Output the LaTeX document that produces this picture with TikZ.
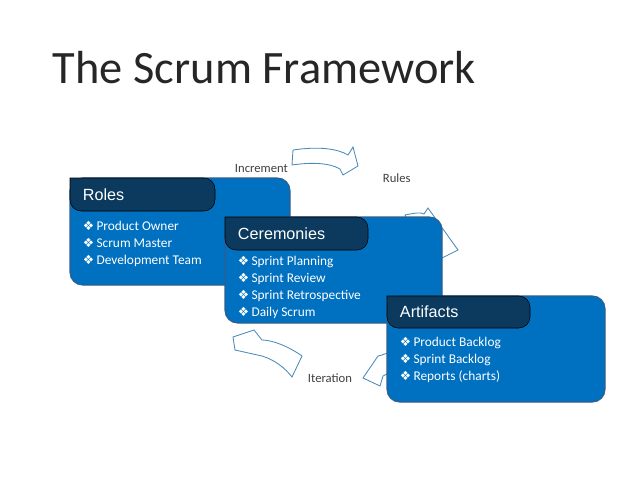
\documentclass[tikz,border=0pt]{standalone}
\usepackage{fontspec}
\setmainfont{Carlito}
\newfontfamily\hdfont{Liberation Sans}
\newfontfamily\djfont{DejaVu Sans}
\definecolor{boxblue}{HTML}{0070C0}
\definecolor{boxedge}{HTML}{2F5F8F}
\definecolor{hdblue}{HTML}{0B3A5E}
\definecolor{arredge}{HTML}{4A8AB8}
\definecolor{lbl}{HTML}{404040}
\newcommand{\bul}{{\djfont\small ❖}\,}
\begin{document}
\begin{tikzpicture}[x=0.025cm,y=-0.025cm,
  body/.style={fill=boxblue,draw=boxedge,line width=0.8pt,rounded corners=9pt},
  head/.style={fill=hdblue,rounded corners=8pt},
  htext/.style={text=white,font=\hdfont\fontsize{11.5}{13}\selectfont,anchor=west},
  items/.style={text=white,font=\fontsize{9.5}{12.2}\selectfont,anchor=north west,align=left},
  barrow/.style={fill=white,draw=arredge,line width=0.6pt},
  lab/.style={text=lbl,font=\fontsize{9}{11}\selectfont}]
\useasboundingbox (0,0) rectangle (638,479);
\node[anchor=base west,font=\fontsize{33}{36}\selectfont,text=black!85] (title) at (48,84) {The Scrum Framework};

% block arrows (behind boxes)
\draw[barrow] (293,150) .. controls (320,146) and (338,149) .. (348,155) -- (353,147) -- (358,166) -- (343,175) -- (340,169) .. controls (330,163) and (312,162) .. (292,165) -- cycle;
\draw[barrow] (405,215) .. controls (415,213) and (420,212) .. (424,214) -- (428,208) -- (458,250) -- (440,259) -- (438,250) -- (420,250) -- cycle;
\draw[barrow] (302,356) .. controls (288,346) and (272,340) .. (262,340) -- (254,330) -- (233,337) -- (235,350) -- (262,356) .. controls (275,360) and (285,368) .. (292,377) -- cycle;
\draw[barrow] (400,355) .. controls (392,352) and (386,353) .. (382,355) -- (378,356) -- (363,378) -- (380,386) -- (383,376) .. controls (390,372) and (395,371) .. (400,371) -- cycle;

\node[lab,anchor=base west] (inc) at (230,172) {Increment};
\node[lab,anchor=base west] (rul) at (378,182) {Rules};
\node[lab,anchor=base west] (ite) at (303,382) {Iteration};

% Roles
\draw[body] (70,178) rectangle (290,285);
\draw[head] (70,178) -- (215,178) -- (215,211) -- (70,211) [sharp corners] -- cycle;
\node[htext] (roles) at (78,195) {Roles};
\node[items] (rolesl) at (78,216) {\bul Product Owner\\\bul Scrum Master\\\bul Development Team};

% Ceremonies
\draw[body] (225,217) rectangle (442,323);
\draw[head] (225,217) -- (368,217) -- (368,250) -- (225,250) [sharp corners] -- cycle;
\node[htext] (cer) at (233,234) {Ceremonies};
\node[items] (cerl) at (233,251) {\bul Sprint Planning\\\bul Sprint Review\\\bul Sprint Retrospective\\\bul Daily Scrum};

% Artifacts
\draw[body] (387,296) rectangle (605,402);
\draw[head] (387,296) -- (530,296) -- (530,328) -- (387,328) [sharp corners] -- cycle;
\node[htext] (art) at (395,312) {Artifacts};
\node[items] (artl) at (395,332) {\bul Product Backlog\\\bul Sprint Backlog\\\bul Reports (charts)};
\end{tikzpicture}
\end{document}
